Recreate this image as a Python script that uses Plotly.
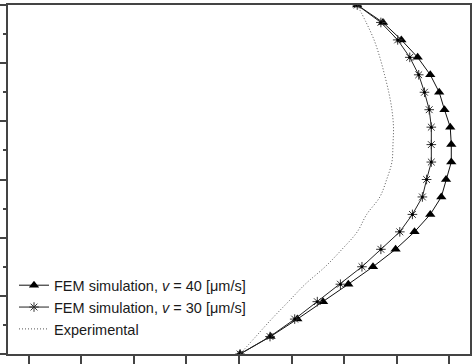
import plotly.graph_objects as go

# position across the channel (y) and velocity values (x)
y_pos = [0.0, 0.3, 0.6, 0.9, 1.2, 1.5, 1.8, 2.1, 2.4, 2.7, 3.0,
         3.3, 3.6, 3.9, 4.2, 4.5, 4.8, 5.1, 5.4, 5.7, 6.0]

fem_v40 = [40.2, 46.0, 51.1, 56.0, 60.8, 65.5, 69.8, 73.4, 76.4, 78.5, 79.4,
           80.4, 80.4, 80.2, 79.1, 78.1, 76.4, 74.0, 70.9, 67.4, 62.5]

fem_v30 = [40.2, 45.9, 50.6, 54.9, 59.3, 63.4, 67.0, 70.6, 73.0, 74.9, 75.7,
           76.6, 76.6, 76.6, 76.2, 75.3, 74.2, 72.5, 70.2, 67.0, 62.5]

experimental = [40.2, 43.2, 46.2, 49.4, 52.6, 56.4, 59.6, 62.5, 64.3, 66.8, 68.1,
                69.1, 69.3, 69.4, 69.1, 68.5, 67.7, 66.8, 65.7, 64.2, 62.5]

names = ["FEM simulation, <i>v</i> = 40 [\u03bcm/s]",
         "FEM simulation, <i>v</i> = 30 [\u03bcm/s]",
         "Experimental"]

fig = go.Figure()

fig.add_trace(go.Scatter(
    x=fem_v40, y=y_pos, mode="lines+markers", name=names[0],
    line=dict(color="#111111", width=1),
    marker=dict(symbol="triangle-up", size=9, color="#000000"),
))

fig.add_trace(go.Scatter(
    x=fem_v30, y=y_pos, mode="lines+markers", name=names[1],
    line=dict(color="#222222", width=1),
    marker=dict(symbol="asterisk-open", size=8, color="#333333",
                line=dict(color="#444444", width=1)),
))

fig.add_trace(go.Scatter(
    x=fem_v30, y=y_pos, mode="markers", showlegend=False, hoverinfo="skip",
    marker=dict(symbol="circle", size=3, color="#000000"),
))

fig.add_trace(go.Scatter(
    x=experimental, y=y_pos, mode="lines", name=names[2],
    line=dict(color="#555555", width=1, dash="1px,2px", shape="spline"),
))

axis_common = dict(
    showgrid=False, zeroline=False, showline=True, linecolor="#444444",
    linewidth=2, mirror=True, showticklabels=False, ticks="outside",
    tickcolor="#444444", tickwidth=1.5,
)

fig.update_xaxes(range=[-3.96, 83.96], tick0=0, dtick=10, ticklen=8,
                 **axis_common)
fig.update_yaxes(range=[0, 6], tick0=0, dtick=1, ticklen=6,
                 minor=dict(dtick=0.5, ticks="outside", ticklen=3,
                            tickcolor="#444444", tickwidth=1.5),
                 **axis_common)

fig.update_layout(
    width=474, height=364,
    margin=dict(l=6, r=2, t=5, b=7),
    paper_bgcolor="white", plot_bgcolor="white",
    font=dict(family="Liberation Sans, Arial, sans-serif", size=14.5,
              color="#1a1a1a"),
    legend=dict(x=0.013, y=0.025, xanchor="left", yanchor="bottom",
                bgcolor="rgba(0,0,0,0)", borderwidth=0,
                font=dict(size=14.5), tracegroupgap=0),
    showlegend=True,
)

fig.write_html("out.html",
               config={"displayModeBar": False},
               post_script="document.body.style.margin='0px';"
                           "document.body.style.overflow='hidden';")
